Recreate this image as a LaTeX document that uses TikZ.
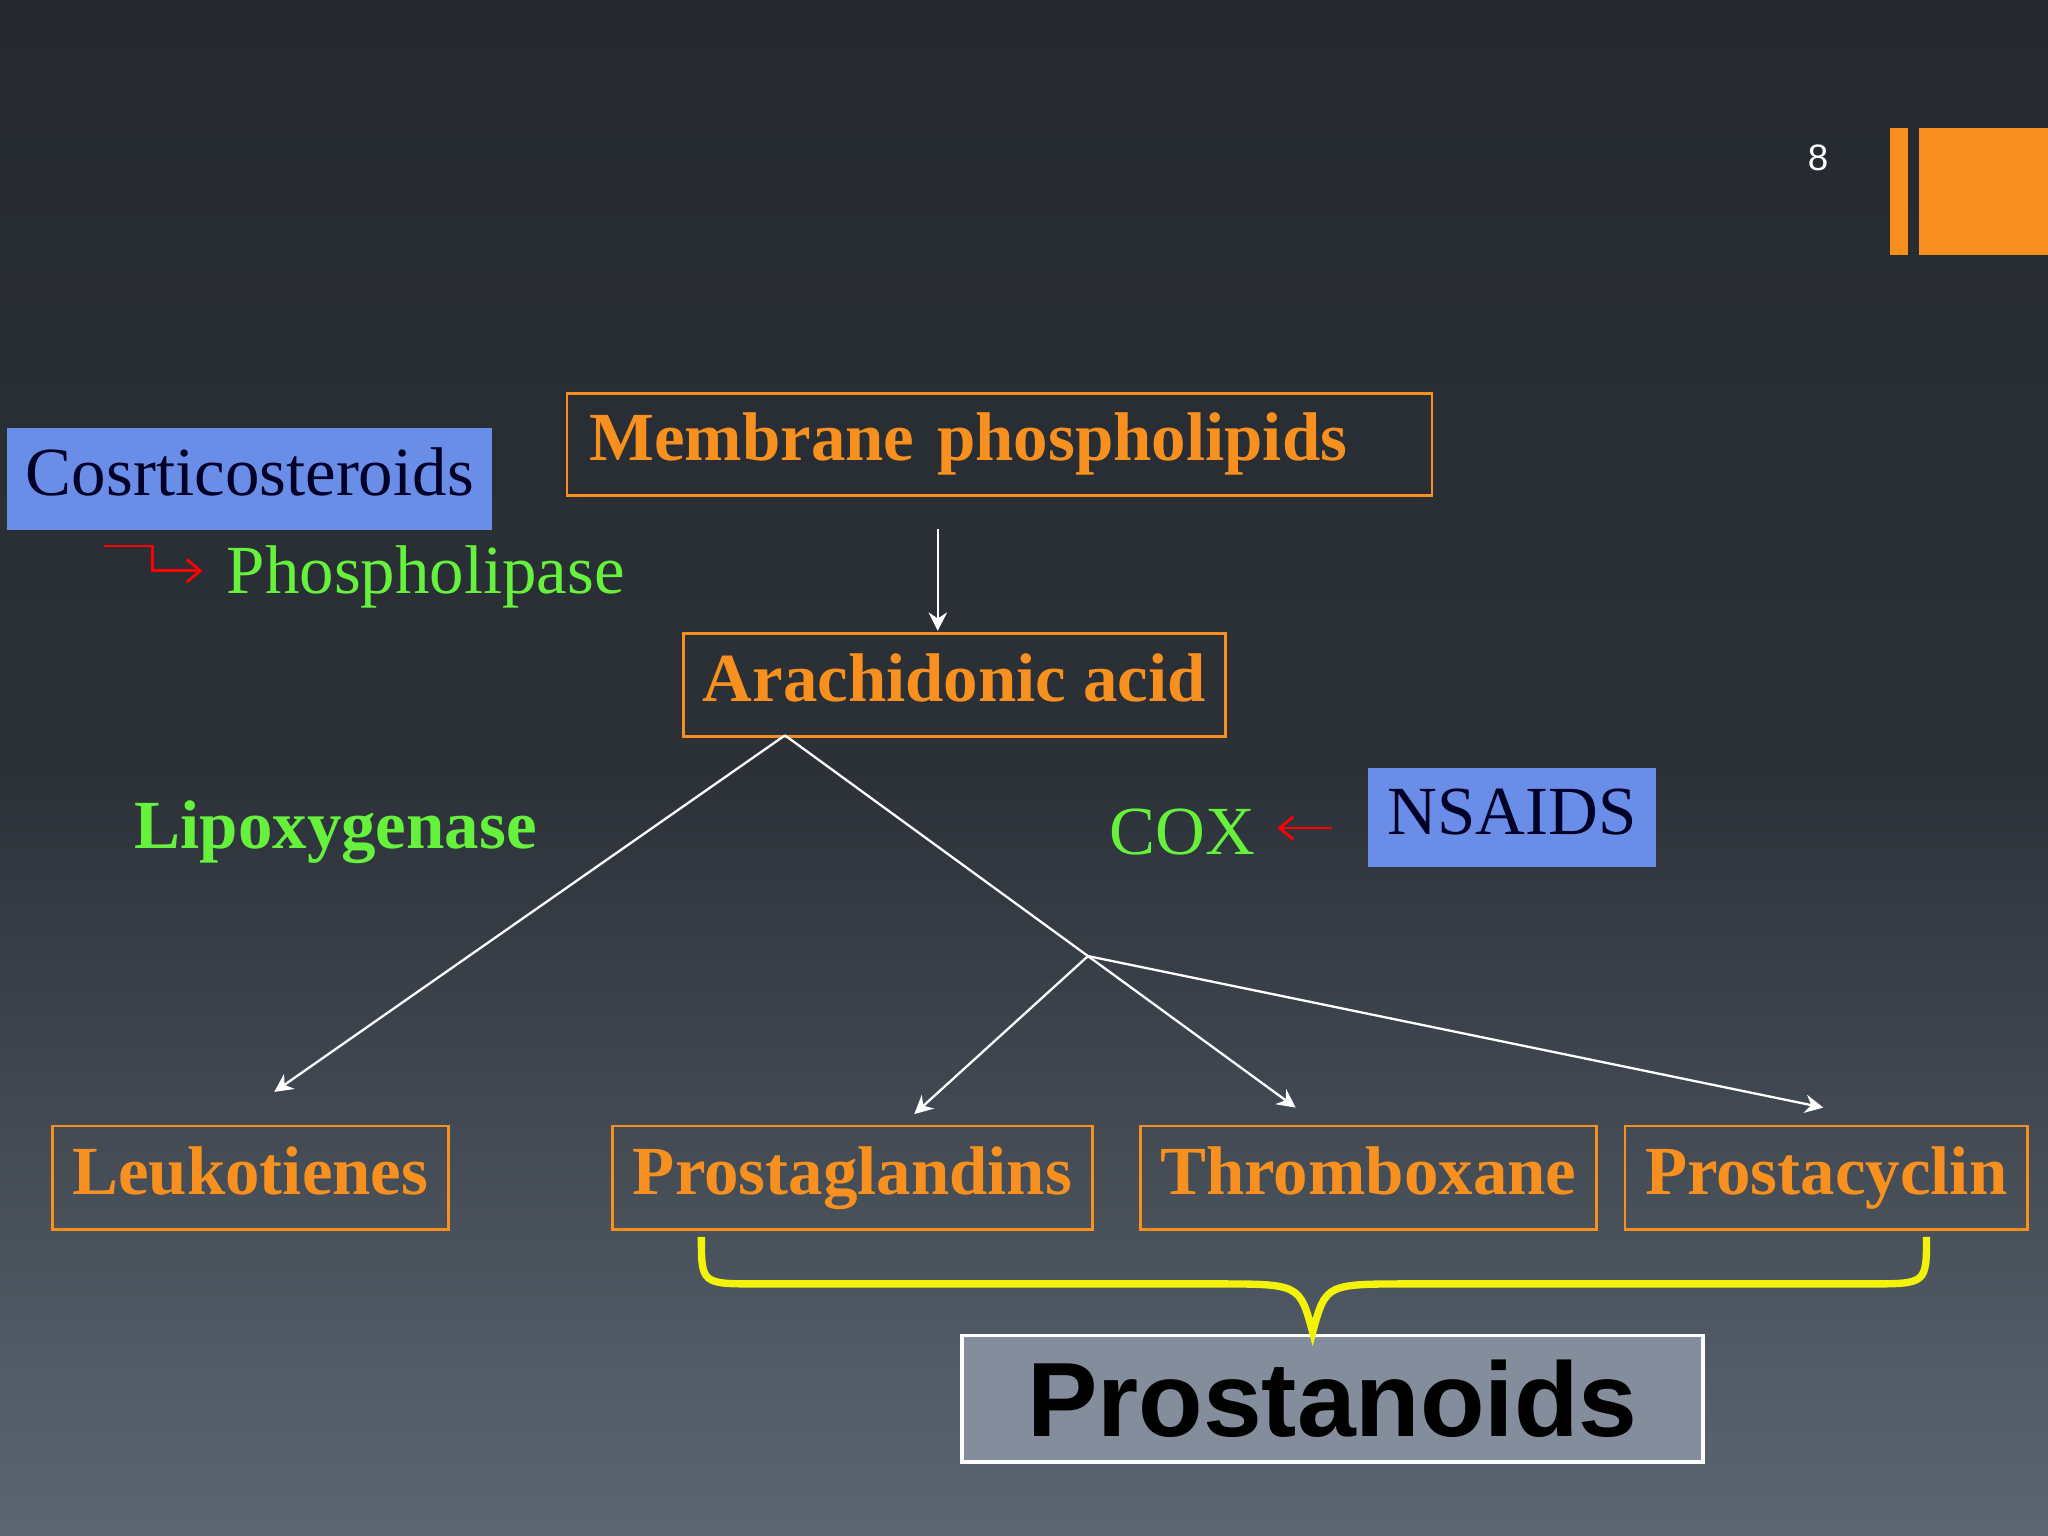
\documentclass[tikz,border=0pt]{standalone}
\usepackage{fontspec}
\setmainfont{Liberation Serif}
\newfontfamily\sansb{Liberation Sans}
\usetikzlibrary{arrows.meta}
\definecolor{org}{HTML}{F7901E}
\definecolor{grn}{HTML}{66F23C}
\definecolor{blu}{HTML}{6A8EE8}
\definecolor{ylw}{HTML}{F2F20A}
\tikzset{
  obox/.style={draw=org, line width=0.6pt, text=org, font=\bfseries\fontsize{15}{15}\selectfont, inner sep=0pt, text height=10.5pt, text depth=3.2pt, anchor=north west},
  bbox/.style={fill=blu, text=black!85!blue, font=\fontsize{15}{15}\selectfont, inner sep=0pt, text height=10.5pt, text depth=3.2pt, anchor=north west},
  wl/.style={draw=white, line width=0.5pt},
  wa/.style={wl, -{Stealth[length=4pt,width=4pt]}},
  ra/.style={draw=red, line width=0.6pt, -{Straight Barb[length=3pt,width=5pt]}}
}
\begin{document}
\begin{tikzpicture}[x=0.01cm,y=-0.01cm]
\shade[top color={rgb,255:red,37;green,41;blue,47}, bottom color={rgb,255:red,92;green,102;blue,114}, middle color={rgb,255:red,44;green,49;blue,56}] (0,0) rectangle (1568,1176);
\useasboundingbox (0,0) rectangle (1568,1176);
% corner decoration
\fill[org] (1447,98) rectangle (1461,195);
\fill[org] (1469,98) rectangle (1568,195);
\node[text=white, font=\sansb\fontsize{8}{8}\selectfont] (pg) at (1392,121) {8};
% boxes
\node[obox, text width=6.28cm, minimum height=0.78cm, align=left, inner xsep=0.17cm] (mem) at (433,300) {Membrane phospholipids};
\node[obox, minimum width=4.15cm, minimum height=0.79cm] (ara) at (522,484) {Arachidonic acid};
\node[bbox, minimum width=3.71cm, minimum height=0.78cm] (cort) at (5,327) {Cosrticosteroids};
\node[text=grn, font=\fontsize{15}{15}\selectfont, anchor=west, inner sep=0pt] (phos) at (173,442) {Phospholipase};
\node[text=grn, font=\bfseries\fontsize{15}{15}\selectfont] (lipo) at (257,637) {Lipoxygenase};
\node[text=grn, font=\fontsize{15}{15}\selectfont] (cox) at (905,637) {COX};
\node[bbox, minimum width=2.2cm, minimum height=0.76cm] (nsaid) at (1047,587) {NSAIDS};
\node[obox, minimum width=3.03cm, minimum height=0.79cm] (leu) at (39,861) {Leukotienes};
\node[obox, minimum width=3.67cm, minimum height=0.79cm] (pgl) at (468,861) {Prostaglandins};
\node[obox, minimum width=3.49cm, minimum height=0.79cm] (thr) at (872,861) {Thromboxane};
\node[obox, minimum width=3.08cm, minimum height=0.79cm] (pcy) at (1243,861) {Prostacyclin};
\node[draw=white, line width=0.8pt, fill={rgb,255:red,131;green,141;blue,156}, font=\sansb\bfseries\fontsize{23}{23}\selectfont, text=black, minimum width=5.67cm, minimum height=0.97cm, anchor=north west, inner sep=0pt] (pros) at (735,1021) {Prostanoids};
% coordinates
\coordinate (ma) at (718,405);
\coordinate (mb) at (718,483);
\coordinate (br) at (601,563);
\coordinate (sp) at (833,732);
\coordinate (le) at (210,836);
\coordinate (pe) at (700,853);
\coordinate (te) at (992,848);
\coordinate (ce) at (1396,848);
\draw[wa] (ma) -- (mb);
\draw[wa] (br) -- (le);
\draw[wl] (br) -- (sp);
\draw[wa] (sp) -- (pe);
\draw[wa] (sp) -- (te);
\draw[wa] (sp) -- (ce);
% red arrows
\coordinate (r1) at (80,418);
\coordinate (r2) at (155,437);
\draw[ra] (r1) -- (117,418) -- (117,437) -- (r2);
\coordinate (n1) at (1020,634);
\coordinate (n2) at (978,634);
\draw[ra] (n1) -- (n2);
% brace
\coordinate (bl) at (537,947);
\coordinate (brr) at (1475,947);
\coordinate (bt) at (1005,1020);
\draw[ylw, line width=1.6pt] (bl) .. controls (537,983) .. (580,983) -- (930,983) .. controls (995,983) .. (bt) .. controls (1015,983) .. (1080,983) -- (1430,983) .. controls (1475,983) .. (brr);
\end{tikzpicture}
\end{document}
